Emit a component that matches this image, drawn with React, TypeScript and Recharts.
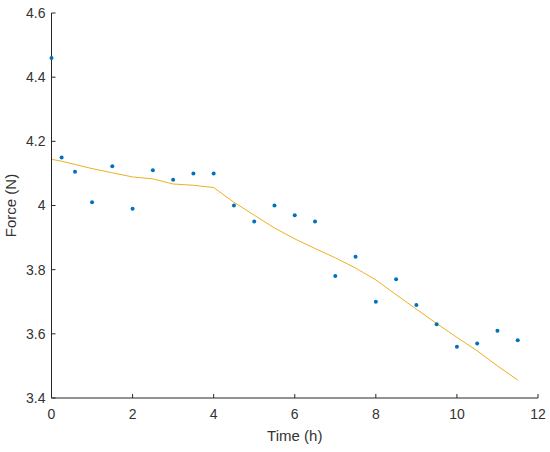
import { ComposedChart, Line, Scatter, XAxis, YAxis } from 'recharts';

const hours = [0, 0.25, 0.58, 1, 1.5, 2, 2.5, 3, 3.5, 4, 4.5, 5, 5.5, 6, 6.5, 7, 7.5, 8, 8.5, 9, 9.5, 10, 10.5, 11, 11.5];
const force = [4.46, 4.15, 4.105, 4.01, 4.122, 3.99, 4.11, 4.08, 4.1, 4.1, 4.0, 3.95, 4.0, 3.97, 3.95, 3.78, 3.84, 3.7, 3.77, 3.69, 3.63, 3.56, 3.57, 3.61, 3.58];
const fit = [4.144, 4.138, 4.128, 4.115, 4.102, 4.089, 4.083, 4.067, 4.063, 4.056, 4.01, 3.97, 3.93, 3.896, 3.866, 3.837, 3.805, 3.768, 3.722, 3.677, 3.632, 3.589, 3.547, 3.5, 3.456];

const xTicks = [0, 2, 4, 6, 8, 10, 12];
const yTicks = [3.4, 3.6, 3.8, 4, 4.2, 4.4, 4.6];

const C = {
  axis: '#262626',
  text: '#333333',
  dots: '#0072BD',
  fit: '#EDB120',
} as const;

const FONT = '"Liberation Sans", Arial, sans-serif';
const TICK = { fill: C.text, fontSize: 14, fontFamily: FONT };

const rows = hours.map((t, i) => ({ t, force: force[i], fit: fit[i] }));

function YLabel({ viewBox }: any) {
  const x = viewBox.x + 10;
  const y = viewBox.y + viewBox.height / 2;
  return (
    <text x={x} y={y} transform={`rotate(-90, ${x}, ${y})`} textAnchor="middle" dominantBaseline="central"
      fill={C.text} fontSize={15} fontFamily={FONT}>
      Force (N)
    </text>
  );
}

function XLabel({ viewBox }: any) {
  return (
    <text x={viewBox.x + viewBox.width / 2} y={viewBox.y + 43} textAnchor="middle"
      fill={C.text} fontSize={15} fontFamily={FONT}>
      Time (h)
    </text>
  );
}

const Dot = (p: any) => <circle cx={p.cx} cy={p.cy} r={2} fill={C.dots} />;

export default function App() {
  return (
    <div style={{ position: 'absolute', left: 0, top: 0, background: '#fff' }}>
      <ComposedChart width={550} height={452} data={rows} margin={{ top: 13, right: 12, bottom: 0, left: 0 }}>
        <XAxis
          dataKey="t"
          type="number"
          domain={[0, 12]}
          ticks={xTicks}
          height={54}
          tickSize={-4}
          tickMargin={15}
          tick={TICK}
          stroke={C.axis}
          label={{ content: XLabel }}
        />
        <YAxis
          type="number"
          domain={[3.4, 4.6]}
          ticks={yTicks}
          width={51.5}
          tickSize={-4}
          tickMargin={10}
          tick={TICK}
          stroke={C.axis}
          label={{ content: YLabel }}
        />
        <Line dataKey="fit" type="linear" stroke={C.fit} strokeWidth={1} dot={false} isAnimationActive={false} />
        <Scatter dataKey="force" shape={Dot} isAnimationActive={false} />
      </ComposedChart>
    </div>
  );
}
